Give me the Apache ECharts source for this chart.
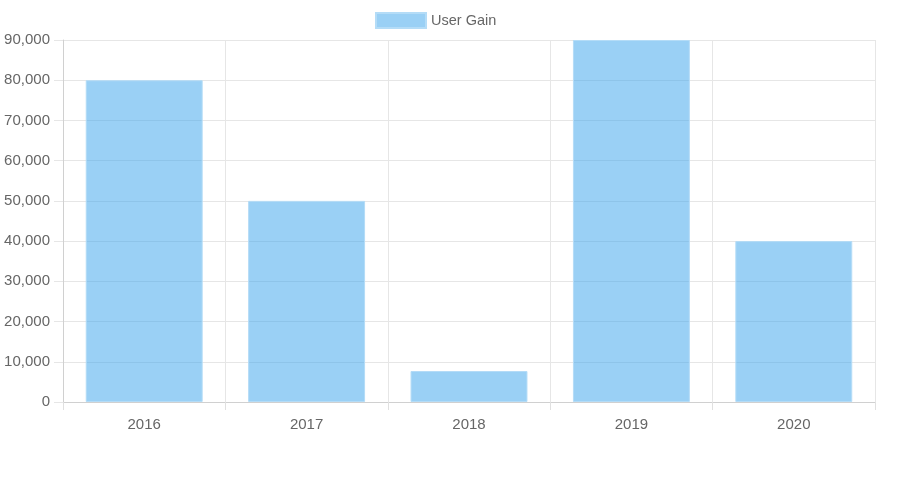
<!DOCTYPE html>
<html>
<head>
<meta charset="utf-8">
<script src="https://cdn.jsdelivr.net/npm/echarts@6/dist/echarts.min.js"></script>
<style>
  html, body { margin: 0; padding: 0; background: #fff; }
  #main { width: 914px; height: 493px; }
</style>
</head>
<body>
<div id="main"></div>
<script>
var years = ['2016', '2017', '2018', '2019', '2020'];
var userGain = [80000, 50000, 7700, 90000, 40000];
var yTicks = { min: 0, max: 90000, interval: 10000 };

var myChart = echarts.init(document.getElementById('main'));
var font = 'Liberation Sans, Arial, Helvetica, sans-serif';

var option = {
    animation: false,
    textStyle: { fontFamily: font },
    legend: {
        left: 370,
        top: 7,
        itemWidth: 50,
        itemHeight: 15,
        itemGap: 8,
        icon: 'rect',
        textStyle: { color: '#666', fontSize: 14.5, fontFamily: font },
        data: ['User Gain']
    },
    grid: {
        left: 63,
        right: 39,
        top: 40,
        bottom: 91
    },
    xAxis: {
        type: 'category',
        data: years,
        axisLine: { lineStyle: { color: '#d0d0d0' } },
        axisTick: { show: true, length: 8, lineStyle: { color: '#e0e0e0' } },
        axisLabel: { color: '#666', fontSize: 15, margin: 15 },
        splitLine: { show: true, lineStyle: { color: '#e6e6e6' } }
    },
    yAxis: {
        type: 'value',
        min: yTicks.min,
        max: yTicks.max,
        interval: yTicks.interval,
        axisLine: { show: true, lineStyle: { color: '#d0d0d0' } },
        axisTick: { show: true, length: 9, lineStyle: { color: '#e6e6e6' } },
        axisLabel: {
            color: '#666',
            fontSize: 15,
            margin: 13,
            formatter: function (v) { return v.toLocaleString('en-US'); }
        },
        splitLine: { show: true, lineStyle: { color: '#e6e6e6' } }
    },
    series: [
        {
            name: 'User Gain',
            type: 'bar',
            data: userGain,
            barCategoryGap: '28%',
            itemStyle: {
                color: 'rgba(54,162,235,0.5)',
                borderColor: 'rgba(180,220,247,1)',
                borderWidth: 1
            }
        }
    ]
};

myChart.setOption(option);
</script>
</body>
</html>
